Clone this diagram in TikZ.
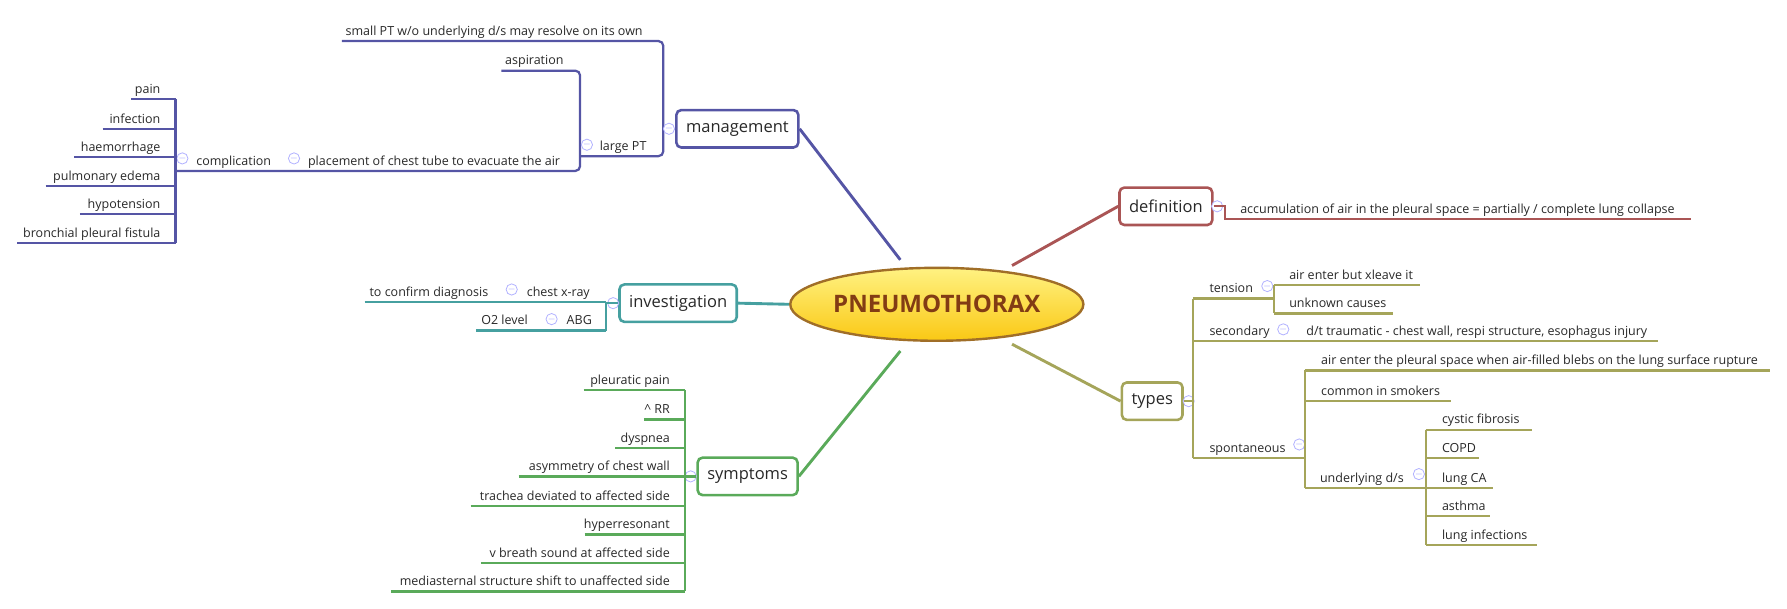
\documentclass[tikz,border=0pt]{standalone}
\usepackage{fontspec}
\setmainfont{Open Sans}
\usetikzlibrary{shapes.geometric}
\definecolor{cm}{RGB}{85,85,165}
\definecolor{cd}{RGB}{170,85,85}
\definecolor{ci}{RGB}{70,160,160}
\definecolor{ct}{RGB}{165,165,90}
\definecolor{cs}{RGB}{90,170,90}
\definecolor{tx}{RGB}{40,40,40}
\tikzset{
 lt/.style={font=\fontsize{7.8}{8}\selectfont,text=tx,inner sep=0pt},
 topic/.style={draw=#1,line width=1.6pt,rounded corners=3pt,fill=white,minimum height=0.82cm,inner xsep=6pt,font=\fontsize{10.3}{12}\selectfont,text=tx},
 br/.style={draw=#1,line width=1.4pt},
 mainl/.style={draw=#1,line width=1.8pt},
 tog/.style={circle,draw=blue!30,fill=white,line width=0.5pt,minimum size=7pt,inner sep=0pt,font=\fontsize{5}{5}\selectfont,text=blue!40}
}
% color, x1, x2, liney, textx, text
\newcommand\lf[6]{\draw[br=#1] (#2,#4) -- (#3,#4); \node[lt,anchor=base west] at (#5,#4-5) {#6};}
\newcommand\tg[2]{\node[tog] at (#1,#2) {$-$};}
\begin{document}
\begin{tikzpicture}[x=0.025cm,y=-0.025cm]
\useasboundingbox (0,0) rectangle (1568,534);
% center
\node[ellipse,inner sep=0pt,draw={rgb,255:red,160;green,110;blue,40},line width=1.5pt,top color={rgb,255:red,255;green,242;blue,130},bottom color={rgb,255:red,250;green,200;blue,20},minimum width=6cm,minimum height=1.6cm,font=\fontsize{15}{17}\selectfont\bfseries,text={rgb,255:red,130;green,60;blue,20}] (c) at (822,267) {PNEUMOTHORAX};
% topics
\node[topic=cm] (m) at (647,113) {management};
\node[topic=cd] (d) at (1023,181) {definition};
\node[topic=ci] (i) at (595,266) {investigation};
\node[topic=ct] (t) at (1011,352) {types};
\node[topic=cs] (s) at (656,418) {symptoms};
\draw[mainl=cm] (790,228) -- (m.east);
\draw[mainl=cd] (888,233) -- (d.west);
\draw[mainl=ci] (c.west) -- (i.east);
\draw[mainl=ct] (888,302) -- (t.west);
\draw[mainl=cs] (790,308) -- (s.east);
% management
\draw[br=cm] (m.west) -- (582,113);
\draw[br=cm,rounded corners=3pt] (300,36) -- (582,36) -- (582,137) -- (510,137);
\node[lt,anchor=base west] at (303,31) {small PT w/o underlying d/s may resolve on its own};
\node[lt,anchor=base west] at (526,132) {large PT};
\tg{587}{113}
\draw[br=cm,rounded corners=3pt] (440,62) -- (509,62) -- (509,150) -- (155,150);
\node[lt,anchor=base west] at (443,57) {aspiration};
\node[lt,anchor=base west] at (270,145) {placement of chest tube to evacuate the air};
\node[lt,anchor=base west] at (172,145) {complication};
\tg{515}{127}\tg{258}{139}\tg{160}{139}
\draw[br=cm] (154,87) -- (154,213);
\foreach \a/\y/\t in {115/87/pain,90/113/infection,65/138/haemorrhage,40/163/pulmonary edema,70/188/hypotension,15/213/bronchial pleural fistula}{
 \draw[br=cm] (\a,\y) -- (154,\y);
 \node[lt,anchor=base east] at (141,\y-5) {\t};}
% definition
\tg{1068}{181}
\draw[br=cd] (d.east) -- (1075,181) -- (1075,192) -- (1484,192);
\node[lt,anchor=base west] at (1088,187) {accumulation of air in the pleural space = partially / complete lung collapse};
% investigation
\tg{538}{266}
\draw[br=ci] (i.west) -- (532,266);
\draw[br=ci] (532,265) -- (532,290);
\draw[br=ci] (320,265) -- (532,265);
\draw[br=ci] (418,290) -- (532,290);
\node[lt,anchor=base west] at (462,260) {chest x-ray};
\node[lt,anchor=base west] at (324,260) {to confirm diagnosis};
\node[lt,anchor=base west] at (497,285) {ABG};
\node[lt,anchor=base west] at (422,285) {O2 level};
\tg{449}{254}\tg{484}{280}
% types
\tg{1043}{352}
\draw[br=ct] (t.east) -- (1047,352);
\draw[br=ct] (1047,262) -- (1047,402);
\lf{ct}{1047}{1118}{262}{1061}{tension}
\lf{ct}{1047}{1455}{299}{1061}{secondary}
\node[lt,anchor=base west] at (1146,294) {d/t traumatic - chest wall, respi structure, esophagus injury};
\lf{ct}{1047}{1145}{402}{1061}{spontaneous}
\tg{1112}{251}\tg{1126}{289}\tg{1140}{390}
\draw[br=ct] (1118,250) -- (1118,275);
\lf{ct}{1118}{1246}{250}{1131}{air enter but xleave it}
\lf{ct}{1118}{1222}{275}{1131}{unknown causes}
\draw[br=ct] (1145,325) -- (1145,428);
\lf{ct}{1145}{1553}{325}{1159}{air enter the pleural space when air-filled blebs on the lung surface rupture}
\lf{ct}{1145}{1273}{352}{1159}{common in smokers}
\lf{ct}{1145}{1251}{428}{1158}{underlying d/s}
\tg{1245}{416}
\draw[br=ct] (1251,377) -- (1251,478);
\lf{ct}{1251}{1344}{377}{1265}{cystic fibrosis}
\lf{ct}{1251}{1298}{402}{1265}{COPD}
\lf{ct}{1251}{1310}{428}{1265}{lung CA}
\lf{ct}{1251}{1307}{453}{1265}{asthma}
\lf{ct}{1251}{1349}{478}{1265}{lung infections}
% symptoms
\tg{606}{418}
\draw[br=cs] (s.west) -- (601,418);
\draw[br=cs] (601,342) -- (601,519);
\foreach \a/\y/\t in {512/342/pleuratic pain,565/368/\textasciicircum{} RR,540/393/dyspnea,455/418/asymmetry of chest wall,413/444/trachea deviated to affected side,513/469/hyperresonant,422/494/v breath sound at affected side,343/519/mediasternal structure shift to unaffected side}{
 \draw[br=cs] (\a,\y) -- (601,\y);
 \node[lt,anchor=base east] at (588,\y-5) {\t};}
\end{tikzpicture}
\end{document}
